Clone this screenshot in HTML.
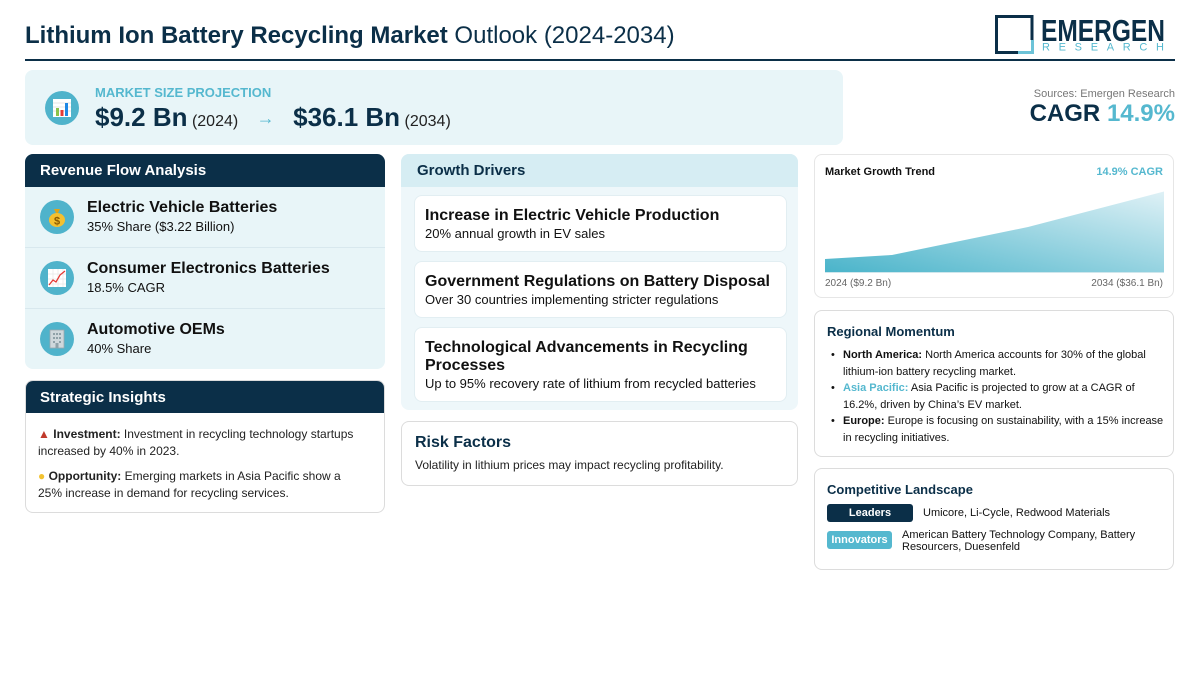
<!DOCTYPE html>
<html><head><meta charset="utf-8">
<style>
*{margin:0;padding:0;box-sizing:border-box}
body{width:1200px;height:700px;background:#fff;font-family:"Liberation Sans",Arial,sans-serif;position:relative;overflow:hidden;color:#111}
.abs{position:absolute}
.navy{color:#0b2f48}
.cyan{color:#55b8cf}
.title{left:25px;top:21px;font-size:24px;line-height:30px;color:#0b2f48;white-space:nowrap}
.rule{left:25px;top:59px;width:1150px;height:2px;background:#0b2f48}
.msbox{left:25px;top:70px;width:818px;height:75px;background:#e8f5f8;border-radius:8px}
.circ{border-radius:50%;background:#4fb3cb}
.panel{border-radius:8px;overflow:hidden}
.hdr{background:#0b2f48;color:#fff;font-weight:bold;font-size:15px}
.item{position:absolute;left:0;width:360px;height:61px;border-top:1px solid #d8e8ee}
.it{position:absolute;left:62px;font-size:16px;font-weight:bold;color:#111;white-space:nowrap}
.is{position:absolute;left:62px;font-size:13px;color:#111;white-space:nowrap}
.card{position:absolute;left:13px;width:373px;background:#fff;border:1px solid #e2eef2;border-radius:8px}
.ct{position:absolute;left:10px;font-size:16px;font-weight:bold;color:#111;line-height:18px}
.cs{position:absolute;left:10px;font-size:13px;color:#111;white-space:nowrap}
.rcard{background:#fff;border:1px solid #dcdcdc;border-radius:8px}
</style></head><body>

<div class="abs title"><b>Lithium Ion Battery Recycling Market</b> Outlook (2024-2034)</div>
<div class="abs rule"></div>

<!-- logo -->
<svg class="abs" style="left:990px;top:10px" width="185" height="50" viewBox="0 0 185 50">
  <path d="M6.5 43 V6.5 H42" fill="none" stroke="#0b2f48" stroke-width="3"/>
  <path d="M42 5 V30" fill="none" stroke="#0b2f48" stroke-width="3"/>
  <path d="M5 42.5 H28" fill="none" stroke="#0b2f48" stroke-width="3"/>
  <path d="M28 42.5 H42.5 V30" fill="none" stroke="#6cc3d8" stroke-width="3"/>
  <text x="51" y="31" font-family="Liberation Sans" font-weight="bold" font-size="31" fill="#0b2f48" textLength="124" lengthAdjust="spacingAndGlyphs">EMERGEN</text>
  <text x="52" y="40.5" font-family="Liberation Sans" font-size="11" fill="#55b8cf" textLength="122" lengthAdjust="spacing">RESEARCH</text>
</svg>

<!-- market size -->
<div class="abs msbox"></div>
<div class="abs circ" style="left:45px;top:91px;width:34px;height:34px"></div>
<svg class="abs" style="left:52px;top:98px" width="20" height="20" viewBox="0 0 20 20">
  <rect x="1" y="1" width="18" height="18" fill="#fff"/>
  <line x1="1" y1="5" x2="19" y2="5" stroke="#ccc" stroke-width="0.6"/>
  <line x1="1" y1="9" x2="19" y2="9" stroke="#ccc" stroke-width="0.6"/>
  <line x1="1" y1="13" x2="19" y2="13" stroke="#ccc" stroke-width="0.6"/>
  <rect x="4" y="10" width="3" height="8" fill="#8bc34a"/>
  <rect x="8.5" y="12" width="3" height="6" fill="#e53935"/>
  <rect x="13" y="5" width="3" height="13" fill="#1e88e5"/>
</svg>
<div class="abs cyan" style="left:95px;top:85px;font-size:13px;font-weight:bold;line-height:15px">MARKET SIZE PROJECTION</div>
<div class="abs navy" style="left:95px;top:102px;white-space:nowrap;line-height:30px">
  <span style="font-size:26px;font-weight:bold">$9.2 Bn</span>
  <span style="font-size:16px;color:#222">(2024)</span>
  <span style="font-size:18px;color:#55b8cf;margin:0 14px 0 14px;position:relative;top:-2px">→</span>
  <span style="font-size:26px;font-weight:bold">$36.1 Bn</span>
  <span style="font-size:16px;color:#222">(2034)</span>
</div>

<div class="abs" style="right:25px;top:88px;font-size:11px;color:#777;text-align:right">Sources: Emergen Research</div>
<div class="abs" style="right:25px;top:100px;font-size:24px;font-weight:bold;line-height:28px;text-align:right;white-space:nowrap"><span class="navy">CAGR</span> <span class="cyan">14.9%</span></div>

<!-- Revenue Flow -->
<div class="abs panel" style="left:25px;top:154px;width:360px;height:215px;background:#e8f5f8">
  <div class="hdr" style="height:33px;line-height:34px;padding-left:15px">Revenue Flow Analysis</div>
  <div class="item" style="top:33px;border-top:none">
    <div class="abs circ" style="left:15px;top:13px;width:34px;height:34px"></div>
    <svg class="abs" style="left:22px;top:19px" width="20" height="22" viewBox="0 0 20 22">
      <path d="M7 3 L13 3 L11 7 L9 7 Z" fill="#e0a416"/>
      <ellipse cx="10" cy="14" rx="8" ry="7" fill="#f4c02f"/>
      <text x="10" y="18.5" font-size="11" font-weight="bold" text-anchor="middle" fill="#8a5a00" font-family="Liberation Sans">$</text>
    </svg>
    <div class="it" style="top:12px">Electric Vehicle Batteries</div>
    <div class="is" style="top:32px">35% Share ($3.22 Billion)</div>
  </div>
  <div class="item" style="top:93px">
    <div class="abs circ" style="left:15px;top:13px;width:34px;height:34px"></div>
    <svg class="abs" style="left:22px;top:20px" width="20" height="20" viewBox="0 0 20 20">
      <rect x="1" y="1" width="18" height="18" fill="#fff"/>
      <path d="M1 6H19M1 11H19M1 16H19M6 1V19M11 1V19M16 1V19" stroke="#ddd" stroke-width="0.5"/>
      <polyline points="2,17 6,12 9,14 13,7 18,3" fill="none" stroke="#e53935" stroke-width="1.3"/>
    </svg>
    <div class="it" style="top:12px">Consumer Electronics Batteries</div>
    <div class="is" style="top:32px">18.5% CAGR</div>
  </div>
  <div class="item" style="top:154px">
    <div class="abs circ" style="left:15px;top:13px;width:34px;height:34px"></div>
    <svg class="abs" style="left:23px;top:20px" width="18" height="20" viewBox="0 0 18 20">
      <rect x="2" y="1" width="14" height="18" fill="#cfd8dc" stroke="#9aa7ad" stroke-width="0.8"/>
      <path d="M5 4h2v2h-2zM8 4h2v2h-2zM11 4h2v2h-2zM5 8h2v2h-2zM8 8h2v2h-2zM11 8h2v2h-2zM5 12h2v2h-2zM11 12h2v2h-2z" fill="#8fa1a8"/>
      <rect x="7.5" y="14" width="3" height="5" fill="#8fa1a8"/>
    </svg>
    <div class="it" style="top:12px">Automotive OEMs</div>
    <div class="is" style="top:32px">40% Share</div>
  </div>
</div>

<!-- Strategic Insights -->
<div class="abs panel" style="left:25px;top:380px;width:360px;height:133px;background:#fff;border:1px solid #dcdcdc">
  <div class="hdr" style="height:33px;line-height:35px;padding-left:15px;margin:-1px -1px 0 -1px">Strategic Insights</div>
  <div class="abs" style="left:12px;top:45px;width:330px;font-size:12px;line-height:17px;color:#222">
    <span style="color:#c0392b">&#x25B2;</span> <b>Investment:</b> Investment in recycling technology startups increased by 40% in 2023.
  </div>
  <div class="abs" style="left:12px;top:87px;width:330px;font-size:12px;line-height:17px;color:#222">
    <span style="color:#f2c230">&#x25CF;</span> <b>Opportunity:</b> Emerging markets in Asia Pacific show a 25% increase in demand for recycling services.
  </div>
</div>

<!-- Growth Drivers -->
<div class="abs panel" style="left:401px;top:154px;width:397px;height:256px;background:#eef7fa">
  <div style="height:33px;line-height:34px;padding-left:16px;background:#d6edf3;font-size:15px;font-weight:bold;color:#0b2f48">Growth Drivers</div>
  <div class="card" style="top:41px;height:57px">
    <div class="ct" style="top:11px;white-space:nowrap">Increase in Electric Vehicle Production</div>
    <div class="cs" style="top:30px">20% annual growth in EV sales</div>
  </div>
  <div class="card" style="top:107px;height:57px">
    <div class="ct" style="top:11px;white-space:nowrap">Government Regulations on Battery Disposal</div>
    <div class="cs" style="top:30px">Over 30 countries implementing stricter regulations</div>
  </div>
  <div class="card" style="top:173px;height:75px">
    <div class="ct" style="top:11px;width:350px">Technological Advancements in Recycling Processes</div>
    <div class="cs" style="top:48px">Up to 95% recovery rate of lithium from recycled batteries</div>
  </div>
</div>

<!-- Risk Factors -->
<div class="abs rcard" style="left:401px;top:421px;width:397px;height:65px">
  <div class="abs navy" style="left:13px;top:12px;font-size:16px;font-weight:bold">Risk Factors</div>
  <div class="abs" style="left:13px;top:36px;font-size:12px;color:#222;white-space:nowrap">Volatility in lithium prices may impact recycling profitability.</div>
</div>

<!-- Market Growth Trend -->
<div class="abs rcard" style="left:814px;top:154px;width:360px;height:144px;border-color:#e6e6e6">
  <div class="abs" style="left:10px;top:11px;font-size:11px;font-weight:bold;color:#111">Market Growth Trend</div>
  <div class="abs cyan" style="right:10px;top:11px;font-size:11px;font-weight:bold">14.9% CAGR</div>
  <div class="abs" style="left:10px;top:123px;font-size:10px;color:#666">2024 ($9.2 Bn)</div>
  <div class="abs" style="right:10px;top:123px;font-size:10px;color:#666">2034 ($36.1 Bn)</div>
</div>
<svg class="abs" style="left:825px;top:185px" width="340" height="90" viewBox="0 0 340 90">
  <defs>
    <linearGradient id="g" x1="0" y1="1" x2="1" y2="0">
      <stop offset="0" stop-color="#4ab4ca"/>
      <stop offset="1" stop-color="#dff1f6"/>
    </linearGradient>
  </defs>
  <path d="M0 74 L67 70 L203 42 L339 6.5 L339 87 L0 87 Z" fill="url(#g)"/>
  <line x1="0" y1="87.5" x2="339" y2="87.5" stroke="#cfe6ec" stroke-width="1"/>
</svg>

<!-- Regional Momentum -->
<div class="abs rcard" style="left:814px;top:310px;width:360px;height:147px">
  <div class="abs navy" style="left:12px;top:13px;font-size:13px;font-weight:bold">Regional Momentum</div>
  <div class="abs" style="left:16px;top:36px;width:335px;font-size:11px;line-height:16.5px;color:#111">
    <div style="position:relative;padding-left:12px"><span style="position:absolute;left:0">•</span><b>North America:</b> North America accounts for 30% of the global lithium-ion battery recycling market.</div>
    <div style="position:relative;padding-left:12px"><span style="position:absolute;left:0">•</span><b style="color:#55b8cf">Asia Pacific:</b> Asia Pacific is projected to grow at a CAGR of 16.2%, driven by China’s EV market.</div>
    <div style="position:relative;padding-left:12px"><span style="position:absolute;left:0">•</span><b>Europe:</b> Europe is focusing on sustainability, with a 15% increase in recycling initiatives.</div>
  </div>
</div>

<!-- Competitive Landscape -->
<div class="abs rcard" style="left:814px;top:468px;width:360px;height:102px">
  <div class="abs navy" style="left:12px;top:13px;font-size:13px;font-weight:bold">Competitive Landscape</div>
  <div class="abs" style="left:12px;top:35px;width:86px;height:18px;background:#0b2f48;border-radius:3px;color:#fff;font-size:11px;font-weight:bold;text-align:center;line-height:18px">Leaders</div>
  <div class="abs" style="left:108px;top:38px;font-size:11px;color:#111;white-space:nowrap">Umicore, Li-Cycle, Redwood Materials</div>
  <div class="abs" style="left:12px;top:62px;width:65px;height:18px;background:#55b8cf;border-radius:3px;color:#fff;font-size:11px;font-weight:bold;text-align:center;line-height:18px">Innovators</div>
  <div class="abs" style="left:87px;top:60px;width:250px;font-size:11px;line-height:12px;color:#111">American Battery Technology Company, Battery Resourcers, Duesenfeld</div>
</div>

</body></html>
